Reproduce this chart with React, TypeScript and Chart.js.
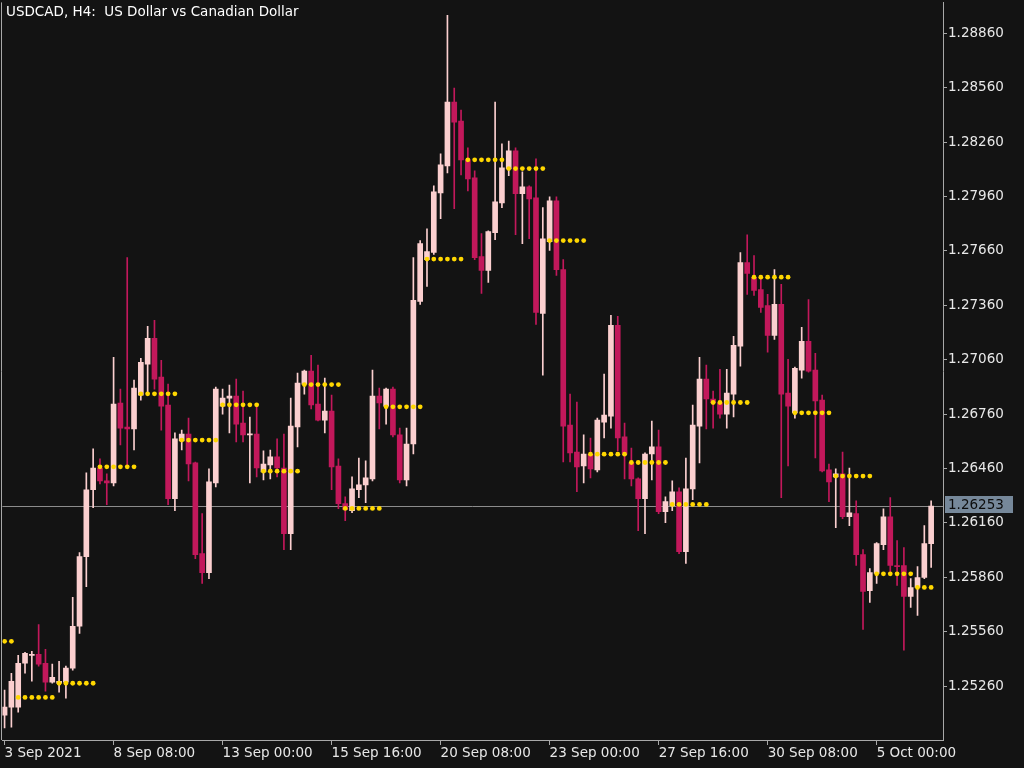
import { useEffect, useRef } from 'react';
import { Chart, registerables } from 'chart.js';

Chart.register(...registerables);

const TITLE = 'USDCAD, H4:  US Dollar vs Canadian Dollar';

const opens = [
  1.25100, 1.25144, 1.25144, 1.25386, 1.25430, 1.25436, 1.25386, 1.25282, 1.25276, 1.25282,
  1.25359, 1.25590, 1.25974, 1.26343, 1.26463, 1.26392, 1.26381, 1.26821, 1.26689, 1.26678,
  1.26865, 1.27035, 1.27178, 1.26964, 1.26810, 1.26293, 1.26612, 1.26650, 1.26491, 1.25991,
  1.25886, 1.26381, 1.26804, 1.26848, 1.26859, 1.26711, 1.26645, 1.26650, 1.26441, 1.26480,
  1.26524, 1.26463, 1.26101, 1.26689, 1.26925, 1.26997, 1.26815, 1.26727, 1.26777, 1.26474,
  1.26266, 1.26227, 1.26343, 1.26370, 1.26403, 1.26859, 1.26804, 1.26898, 1.26645, 1.26397,
  1.26595, 1.27381, 1.27612, 1.27651, 1.27980, 1.28129, 1.28480, 1.28376, 1.28162, 1.28063,
  1.27629, 1.27552, 1.27760, 1.27925, 1.28112, 1.28211, 1.27975, 1.28013, 1.27953, 1.27315,
  1.27711, 1.27936, 1.27557, 1.26700, 1.26551, 1.26474, 1.26540, 1.26452, 1.26716, 1.26749,
  1.27249, 1.26634, 1.26491, 1.26403, 1.26293, 1.26540, 1.26579, 1.26222, 1.26255, 1.26332,
  1.26002, 1.26348, 1.26694, 1.26953, 1.26843, 1.26821, 1.26760, 1.26870, 1.27134, 1.27596,
  1.27513, 1.27447, 1.27359, 1.27194, 1.27365, 1.26876, 1.26766, 1.27002, 1.27161, 1.27002,
  1.26837, 1.26452, 1.26414, 1.26430, 1.26194, 1.26211, 1.25985, 1.25787, 1.25881, 1.26040,
  1.26194, 1.25925, 1.25925, 1.25754, 1.25804, 1.25859, 1.26046,
];

const highs = [
  1.25238, 1.25331, 1.25430, 1.25447, 1.25452, 1.25600, 1.25463, 1.25381, 1.25397, 1.25370,
  1.25749, 1.25996, 1.26436, 1.26568, 1.26513, 1.26430, 1.27073, 1.26898, 1.27623, 1.26947,
  1.27068, 1.27244, 1.27277, 1.27057, 1.26925, 1.26656, 1.26672, 1.26738, 1.26496, 1.26211,
  1.26458, 1.26909, 1.26898, 1.26920, 1.26953, 1.26887, 1.26744, 1.26804, 1.26557, 1.26562,
  1.26623, 1.26650, 1.26848, 1.26986, 1.27002, 1.27084, 1.27030, 1.26958, 1.26865, 1.26513,
  1.26304, 1.26414, 1.26518, 1.26502, 1.27002, 1.26903, 1.26903, 1.26909, 1.26683, 1.26683,
  1.27623, 1.27717, 1.27782, 1.28019, 1.28195, 1.28959, 1.28557, 1.28436, 1.28228, 1.28101,
  1.27755, 1.27771, 1.28480, 1.28250, 1.28266, 1.28228, 1.28096, 1.28019, 1.28167, 1.27898,
  1.27958, 1.27958, 1.27612, 1.26870, 1.26826, 1.26645, 1.26628, 1.26738, 1.26980, 1.27304,
  1.27299, 1.26711, 1.26573, 1.26408, 1.26546, 1.26722, 1.26672, 1.26304, 1.26392, 1.26353,
  1.26518, 1.26810, 1.27073, 1.27030, 1.26887, 1.27007, 1.27007, 1.27189, 1.27651, 1.27749,
  1.27634, 1.27508, 1.27420, 1.27557, 1.27475, 1.27062, 1.27019, 1.27238, 1.27392, 1.27095,
  1.26865, 1.26485, 1.26458, 1.26551, 1.26463, 1.26282, 1.26013, 1.25908, 1.26051, 1.26238,
  1.26299, 1.26062, 1.26024, 1.25853, 1.25919, 1.26145, 1.26282,
];

const lows = [
  1.25029, 1.25034, 1.25117, 1.25331, 1.25287, 1.25370, 1.25232, 1.25276, 1.25227, 1.25194,
  1.25348, 1.25551, 1.25809, 1.26244, 1.26375, 1.26260, 1.26364, 1.26590, 1.26474, 1.26562,
  1.26837, 1.26870, 1.26898, 1.26672, 1.26260, 1.26227, 1.26562, 1.26392, 1.25963, 1.25826,
  1.25853, 1.26359, 1.26760, 1.26656, 1.26606, 1.26606, 1.26381, 1.26414, 1.26397, 1.26403,
  1.26414, 1.26013, 1.26013, 1.26579, 1.26870, 1.26788, 1.26722, 1.26656, 1.26343, 1.26238,
  1.26172, 1.26216, 1.26299, 1.26271, 1.26392, 1.26678, 1.26705, 1.26634, 1.26381, 1.26364,
  1.26540, 1.27365, 1.27464, 1.27640, 1.27837, 1.28090, 1.27892, 1.28079, 1.27991, 1.27612,
  1.27425, 1.27486, 1.27722, 1.27898, 1.28074, 1.27749, 1.27700, 1.27727, 1.27255, 1.26974,
  1.27662, 1.27524, 1.26496, 1.26496, 1.26332, 1.26381, 1.26408, 1.26441, 1.26628, 1.26683,
  1.26557, 1.26403, 1.26364, 1.26117, 1.26101, 1.26397, 1.26211, 1.26161, 1.26227, 1.25991,
  1.25936, 1.26288, 1.26491, 1.26678, 1.26683, 1.26738, 1.26683, 1.26744, 1.27024, 1.27420,
  1.27414, 1.27321, 1.27101, 1.27172, 1.26299, 1.26474, 1.26738, 1.26958, 1.26991, 1.26518,
  1.26441, 1.26277, 1.26134, 1.26183, 1.26145, 1.25925, 1.25573, 1.25721, 1.25826, 1.26013,
  1.25881, 1.25815, 1.25458, 1.25694, 1.25650, 1.25853, 1.25914,
];

const closes = [
  1.25144, 1.25287, 1.25386, 1.25441, 1.25436, 1.25381, 1.25282, 1.25309, 1.25287, 1.25359,
  1.25590, 1.25974, 1.26343, 1.26463, 1.26392, 1.26381, 1.26815, 1.26683, 1.26678, 1.26903,
  1.27046, 1.27178, 1.26953, 1.26804, 1.26293, 1.26623, 1.26650, 1.26485, 1.25985, 1.25886,
  1.26386, 1.26898, 1.26848, 1.26859, 1.26705, 1.26645, 1.26650, 1.26463, 1.26485, 1.26524,
  1.26463, 1.26101, 1.26694, 1.26931, 1.26997, 1.26810, 1.26727, 1.26777, 1.26469, 1.26266,
  1.26233, 1.26348, 1.26370, 1.26408, 1.26859, 1.26821, 1.26898, 1.26645, 1.26397, 1.26595,
  1.27387, 1.27700, 1.27656, 1.27986, 1.28134, 1.28480, 1.28370, 1.28162, 1.28057, 1.27623,
  1.27552, 1.27766, 1.27931, 1.28118, 1.28211, 1.27975, 1.28013, 1.27947, 1.27321, 1.27727,
  1.27936, 1.27557, 1.26694, 1.26546, 1.26469, 1.26540, 1.26458, 1.26727, 1.26755, 1.27249,
  1.26628, 1.26540, 1.26403, 1.26293, 1.26540, 1.26579, 1.26222, 1.26277, 1.26332, 1.26002,
  1.26348, 1.26700, 1.26953, 1.26843, 1.26821, 1.26760, 1.26876, 1.27139, 1.27596, 1.27535,
  1.27442, 1.27348, 1.27194, 1.27365, 1.26870, 1.26804, 1.27013, 1.27161, 1.26997, 1.26832,
  1.26447, 1.26386, 1.26430, 1.26194, 1.26216, 1.25985, 1.25782, 1.25886, 1.26046, 1.26194,
  1.25925, 1.25919, 1.25754, 1.25804, 1.25859, 1.26046, 1.26253,
];

// one level per trading day (6 H4 bars); the first day started 4 bars before the first visible bar
const dailyLevels = [
  1.25507, 1.25198, 1.25276, 1.26469, 1.26872, 1.26617, 1.26811, 1.26445, 1.26923, 1.26240,
  1.26800, 1.27615, 1.28162, 1.28114, 1.27717, 1.26539, 1.26493, 1.26262, 1.26824, 1.27515,
  1.26767, 1.26418, 1.25879, 1.25804,
];
const BARS_PER_DAY = 6;
const FIRST_DAY_OFFSET = 4;

const priceTicks = [
  1.25260, 1.25560, 1.25860, 1.26160, 1.26460, 1.26760, 1.27060,
  1.27360, 1.27660, 1.27960, 1.28260, 1.28560, 1.28860,
];

const timeTickBars = [0, 16, 32, 48, 64, 80, 96, 112, 128];
const timeLabels = [
  '3 Sep 2021', '8 Sep 08:00', '13 Sep 00:00', '15 Sep 16:00', '20 Sep 08:00',
  '23 Sep 00:00', '27 Sep 16:00', '30 Sep 08:00', '5 Oct 00:00',
];

const currentPrice = 1.26253;

const BG = '#131313';
const BULL = '#FBCFCF';
const BEAR = '#C2185B';
const DOT = '#FFD700';
const AXIS = '#a8a8a8';
const TEXT = '#e8e8e8';
const FONT_FAMILY = 'DejaVu Sans';
const FONT_SIZE = 13.5;

export default function App() {
  const ref = useRef<HTMLCanvasElement | null>(null);

  useEffect(() => {
    document.body.style.margin = '0';
    document.body.style.background = BG;
    const canvas = ref.current;
    if (!canvas) return;

    const idx = opens.map((_, i) => i);
    const colors = idx.map((i) => (closes[i] >= opens[i] ? BULL : BEAR));
    const bodies = idx.map((i) => ({ x: i, y: [opens[i], closes[i]] }));
    const wicks = idx.map((i) => ({ x: i, y: [lows[i], highs[i]] }));
    const dots = idx.map((i) => ({
      x: i,
      y: dailyLevels[Math.floor((i + FIRST_DAY_OFFSET) / BARS_PER_DAY)],
    }));

    const font = { family: FONT_FAMILY, size: FONT_SIZE };

    const overlay = {
      id: 'mtOverlay',
      beforeDraw(chart: any) {
        const { ctx, width, height } = chart;
        ctx.save();
        ctx.fillStyle = BG;
        ctx.fillRect(0, 0, width, height);
        ctx.restore();
      },
      beforeDatasetsDraw(chart: any) {
        const { ctx, chartArea } = chart;
        const ys = chart.scales.y;
        const y = Math.round(ys.getPixelForValue(currentPrice)) + 0.5;
        ctx.save();
        ctx.strokeStyle = '#8c8c8c';
        ctx.lineWidth = 1;
        ctx.beginPath();
        ctx.moveTo(chartArea.left, y);
        ctx.lineTo(chartArea.right, y);
        ctx.stroke();
        ctx.restore();
      },
      afterDraw(chart: any) {
        const { ctx, chartArea } = chart;
        const ys = chart.scales.y;
        ctx.save();
        // left frame line
        ctx.strokeStyle = AXIS;
        ctx.lineWidth = 1;
        ctx.beginPath();
        ctx.moveTo(1.5, chartArea.top);
        ctx.lineTo(1.5, chartArea.bottom);
        ctx.stroke();
        // title
        ctx.fillStyle = '#ffffff';
        ctx.font = `${FONT_SIZE}px "${FONT_FAMILY}"`;
        ctx.textBaseline = 'middle';
        ctx.textAlign = 'left';
        ctx.fillText(TITLE, 6, 12);
        // current price label
        const y = Math.round(ys.getPixelForValue(currentPrice)) + 0.5;
        ctx.fillStyle = '#76889a';
        ctx.fillRect(chartArea.right + 2, y - 10.5, 68, 17);
        ctx.fillStyle = '#0c0c0c';
        ctx.fillText(currentPrice.toFixed(5), chartArea.right + 5, y - 1.5);
        ctx.restore();
      },
    };

    const chart = new Chart(canvas, {
      type: 'bar',
      data: {
        datasets: [
          {
            type: 'line',
            data: dots,
            showLine: false,
            pointRadius: 2.4,
            pointHoverRadius: 2.4,
            pointBackgroundColor: DOT,
            pointBorderWidth: 0,
            borderColor: DOT,
            order: 0,
          } as any,
          {
            type: 'bar',
            data: bodies,
            backgroundColor: colors,
            borderWidth: 0,
            barThickness: 5,
            minBarLength: 1,
            grouped: false,
            order: 1,
          } as any,
          {
            type: 'bar',
            data: wicks,
            backgroundColor: colors,
            borderWidth: 0,
            barThickness: 1,
            grouped: false,
            order: 2,
          } as any,
        ],
      },
      options: {
        animation: false,
        responsive: false,
        maintainAspectRatio: false,
        devicePixelRatio: 1,
        events: [],
        layout: { padding: 0 },
        plugins: {
          legend: { display: false },
          tooltip: { enabled: false },
          title: { display: false },
        },
        scales: {
          x: {
            type: 'linear',
            position: 'bottom',
            min: -0.32,
            max: 137.74,
            offset: false,
            bounds: 'data',
            afterBuildTicks: (s: any) => {
              s.ticks = timeTickBars.map((v) => ({ value: v }));
            },
            afterFit: (s: any) => {
              s.height = 28;
              s.paddingLeft = 0;
              s.paddingRight = 0;
              s.paddingTop = 0;
              s.paddingBottom = 0;
            },
            ticks: {
              autoSkip: false,
              maxRotation: 0,
              minRotation: 0,
              align: 'start',
              color: TEXT,
              font,
              padding: 0,
              callback: (_v: any, i: number) => timeLabels[i],
            },
            grid: {
              offset: false,
              drawOnChartArea: false,
              drawTicks: true,
              tickLength: 5,
              color: AXIS,
            },
            border: { display: true, color: AXIS },
          },
          y: {
            type: 'linear',
            position: 'right',
            min: 1.24963,
            max: 1.2903,
            bounds: 'data',
            afterBuildTicks: (s: any) => {
              s.ticks = priceTicks.map((v) => ({ value: v }));
            },
            afterFit: (s: any) => {
              s.width = 81;
              s.paddingTop = 0;
              s.paddingBottom = 0;
              s.paddingLeft = 0;
              s.paddingRight = 0;
            },
            ticks: {
              color: TEXT,
              font,
              padding: 1,
              crossAlign: 'near',
              callback: (v: any) => Number(v).toFixed(5),
            },
            grid: {
              drawOnChartArea: false,
              drawTicks: true,
              tickLength: 4,
              color: AXIS,
            },
            border: { display: true, color: AXIS },
          },
        },
      } as any,
      plugins: [overlay],
    });

    return () => chart.destroy();
  }, []);

  return (
    <canvas
      ref={ref}
      width={1024}
      height={768}
      style={{ display: 'block', width: 1024, height: 768 }}
    />
  );
}
